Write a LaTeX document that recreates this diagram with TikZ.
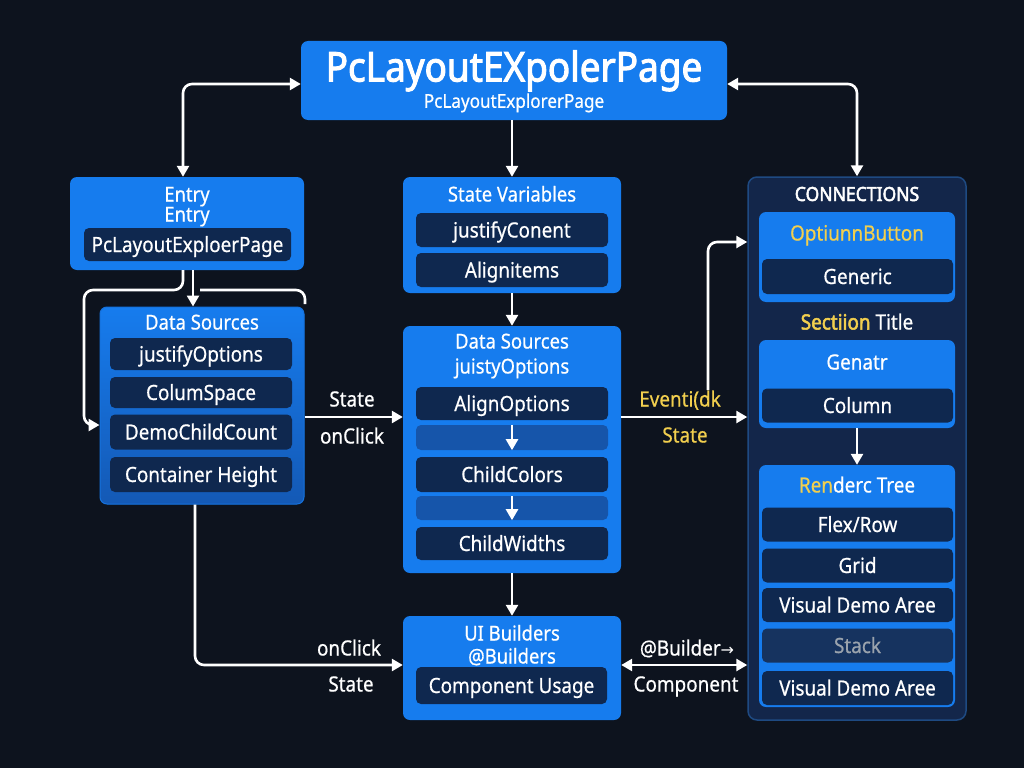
\documentclass[tikz,border=0pt]{standalone}
\usepackage{fontspec}
\setmainfont{Noto Sans}[FakeStretch=0.9]
\newfontfamily\medf{Noto Sans}[FakeStretch=0.9, FakeBold=0.6]
\newfontfamily\boldf{Noto Sans}[FakeStretch=0.9, FakeBold=2.4]
\newfontfamily\dejavu{DejaVu Sans}
\usetikzlibrary{arrows.meta}

\definecolor{bg}{HTML}{0D131E}
\definecolor{bblue}{HTML}{167CEE}
\definecolor{dblue}{HTML}{0F284F}
\definecolor{bandc}{HTML}{1655AA}
\definecolor{lowblue}{HTML}{1459B5}
\definecolor{panel}{HTML}{13264A}
\definecolor{panelb}{HTML}{1E4A82}
\definecolor{ylw}{HTML}{F2CF4E}
\definecolor{greyt}{HTML}{9AA3AD}
\definecolor{stackc}{HTML}{16335F}

\tikzset{
 box/.style={fill=bblue, rounded corners=7pt, inner sep=0pt},
 item/.style={fill=dblue, rounded corners=5pt, text=white, font=\medf\fontsize{21}{24}\selectfont,
   minimum width=192pt, minimum height=34pt, inner sep=0pt, text height=15pt, text depth=0pt},
 ttl/.style={text=white, font=\medf\fontsize{20.5}{24}\selectfont, inner sep=0pt, text height=15pt, text depth=0pt},
 lbl/.style={text=white, font=\medf\fontsize{21}{24}\selectfont, inner sep=0pt, text height=15pt, text depth=0pt},
 ylbl/.style={lbl, text=ylw},
 conn/.style={draw=white, line width=2.6pt, rounded corners=9pt, -{Triangle[length=11pt,width=12pt]}},
 dconn/.style={conn, {Triangle[length=11pt,width=12pt]}-{Triangle[length=11pt,width=12pt]}},
 plain/.style={draw=white, line width=2.6pt, rounded corners=9pt},
}

\begin{document}
\begin{tikzpicture}[x=1pt,y=-1pt]
\useasboundingbox (0,0) rectangle (1024,768);
\fill[bg] (0,0) rectangle (1024,768);

% ---------- top box
\node[box, minimum width=426pt, minimum height=79pt] (top) at (514,80.5) {};
\node[text=white, font=\boldf\fontsize{41}{44}\selectfont, inner sep=0pt, text height=29pt, text depth=0pt] (toptitle) at (514,67) {PcLayoutEXpolerPage};
\node[text=white, font=\medf\fontsize{19}{22}\selectfont, inner sep=0pt, text height=13.5pt, text depth=0pt] (topsub) at (514,101) {PcLayoutExplorerPage};

% ---------- Entry
\node[box, minimum width=234pt, minimum height=93pt] (entry) at (187,223.5) {};
\node[ttl] (entryt1) at (187,194) {Entry};
\node[ttl] (entryt2) at (187,214) {Entry};
\node[item, minimum width=207pt, minimum height=33pt] (entryitem) at (187.5,244.5) {PcLayoutExploerPage};

% ---------- left Data Sources
\node[box, top color=bblue, bottom color=lowblue, draw=bblue!70!lowblue, line width=1pt,
      minimum width=204pt, minimum height=197pt] (lds) at (202,405.5) {};
\node[ttl] (ldst) at (202,322) {Data Sources};
\node[item, minimum width=182pt, minimum height=32pt] (ld1) at (201,354) {justifyOptions};
\node[item, minimum width=182pt, minimum height=31pt] (ld2) at (201,392.5) {ColumSpace};
\node[item, minimum width=182pt, minimum height=35pt] (ld3) at (201,432) {DemoChildCount};
\node[item, minimum width=182pt, minimum height=35pt] (ld4) at (201,474.5) {Container Height};

% ---------- State Variables
\node[box, minimum width=218pt, minimum height=116pt] (sv) at (512,235) {};
\node[ttl] (svt) at (512,194) {State Variables};
\node[item] (sv1) at (512,230) {justifyConent};
\node[item] (sv2) at (512,270) {Alignitems};

% ---------- middle Data Sources
\node[box, minimum width=218pt, minimum height=247pt] (mds) at (512,449.5) {};
\node[ttl] (mdst1) at (512,341) {Data Sources};
\node[ttl] (mdst2) at (512,366) {juistyOptions};
\node[item, minimum height=33pt] (md1) at (512,403.5) {AlignOptions};
\node[item, fill=bandc, minimum height=25pt] (band1) at (512,437.5) {};
\node[item, minimum height=35pt] (md2) at (512,474.5) {ChildColors};
\node[item, fill=bandc, minimum height=24pt] (band2) at (512,508) {};
\node[item, minimum height=33pt] (md3) at (512,543.5) {ChildWidths};

% ---------- UI Builders
\node[box, minimum width=218pt, minimum height=104pt] (uib) at (512,668) {};
\node[ttl] (uibt1) at (512,633) {UI Builders};
\node[ttl] (uibt2) at (512,656) {@Builders};
\node[item, minimum width=191pt, minimum height=37pt] (uib1) at (511.5,685.5) {Component Usage};

% ---------- right panel
\node[fill=panel, draw=panelb, line width=1.5pt, rounded corners=9pt,
      minimum width=218pt, minimum height=543pt, inner sep=0pt] (panel) at (857,448.5) {};
\node[ttl, font=\boldf\fontsize{19.5}{22}\selectfont, text height=14pt] (conn) at (857,194) {CONNECTIONS};
\node[box, minimum width=196pt, minimum height=90pt] (g1) at (857,257) {};
\node[ylbl] (g1t) at (857,233) {OptiunnButton};
\node[item, minimum width=191pt, minimum height=35pt] (g1i) at (857.5,276.5) {Generic};
\node[lbl] (sect) at (857,322) {{\color{ylw}\boldf Sectiion} Title};
\node[box, minimum width=196pt, minimum height=88pt] (g2) at (857,384) {};
\node[lbl] (g2t) at (857,362) {Genatr};
\node[item, minimum width=191pt, minimum height=34pt] (g2i) at (857.5,405.5) {Column};
\node[box, minimum width=196pt, minimum height=242pt] (g3) at (857,586) {};
\node[lbl] (g3t) at (857,485) {{\color{ylw}Ren}derc Tree};
\node[item, minimum width=191pt, minimum height=34pt] (r1) at (857.5,524.5) {Flex/Row};
\node[item, minimum width=191pt, minimum height=34pt] (r2) at (857.5,565.5) {Grid};
\node[item, minimum width=191pt, minimum height=34pt] (r3) at (857.5,605) {Visual Demo Aree};
\node[item, fill=stackc, text=greyt, minimum width=191pt, minimum height=34pt] (r4) at (857.5,645.5) {Stack};
\node[item, minimum width=191pt, minimum height=34pt] (r5) at (857.5,688) {Visual Demo Aree};

% ---------- labels
\node[lbl] (l1) at (352,399) {State};
\node[lbl] (l2) at (352,436) {onClick};
\node[lbl] (l3) at (349,648) {onClick};
\node[lbl] (l4) at (351,684) {State};
\node[lbl] (l5) at (687,648) {@Builder{\dejavu\fontsize{16}{18}\selectfont→}};
\node[lbl] (l6) at (686,684) {Component};
\node[ylbl] (l7) at (680,399) {Eventi(dk};
\node[ylbl] (l8) at (685,435) {State};

% ---------- coordinates for free ends
\coordinate (rs) at (200,290);
\coordinate (re) at (305,304);
\coordinate (ev) at (708,390);

% ---------- connectors
\draw[dconn] (entry.north -| 183,0) |- (top.west |- 0,84);
\draw[dconn] (top.east |- 0,84) -| (panel.north);
\draw[conn] (sv.north |- top.south) -- (sv.north);
\draw[conn, rounded corners=0pt] (entry.south -| 193,0) -- (lds.north -| 193,0);
\draw[conn] (entry.south -| 183,0) |- (84,290) |- (lds.west |- 0,425);
\draw[plain] (rs) -| (re);
\draw[conn] (lds.east |- 0,417) -- (mds.west |- 0,417);
\draw[conn] (lds.south -| 195,0) |- (uib.west |- 0,665);
\draw[conn] (sv.south) -- (mds.north);
\draw[conn] (mds.south) -- (uib.north);
\draw[dconn] (uib.east |- 0,665) -- (panel.west |- 0,665);
\draw[conn] (mds.east |- 0,417) -- (panel.west |- 0,417);
\draw[conn] (ev) |- (panel.west |- 0,242);
\draw[conn, line width=2.4pt] (band1.north) -- (band1.south);
\draw[conn, line width=2.4pt] (band2.north) -- (band2.south);
\draw[conn] (g2.south) -- (g3.north);
\end{tikzpicture}
\end{document}
